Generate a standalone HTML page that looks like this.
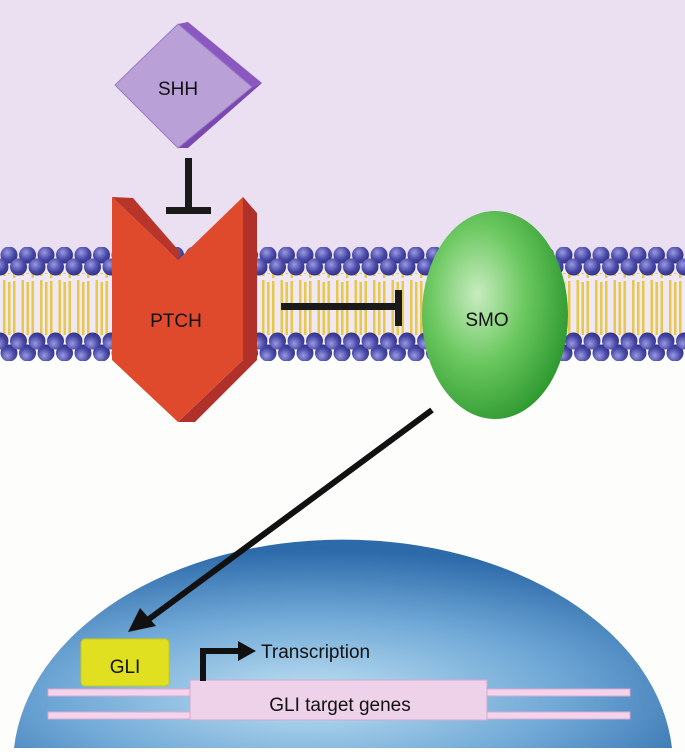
<!DOCTYPE html>
<html><head><meta charset="utf-8"><style>
html,body{margin:0;padding:0;background:#fdfdfb;overflow:hidden}
svg{display:block}
text{font-family:"Liberation Sans",Arial,sans-serif;fill:#111}
</style></head><body>
<svg width="685" height="752" viewBox="0 0 685 752" xmlns="http://www.w3.org/2000/svg">
<defs>
<radialGradient id="head" cx="0.4" cy="0.35" r="0.7">
<stop offset="0" stop-color="#9a9ae0"/><stop offset="0.6" stop-color="#4848a8"/><stop offset="1" stop-color="#2e2e80"/>
</radialGradient>
<radialGradient id="smo" cx="0.38" cy="0.4" r="0.65">
<stop offset="0" stop-color="#c8ecc0"/><stop offset="0.5" stop-color="#6cc860"/><stop offset="1" stop-color="#2f9a30"/>
</radialGradient>
<radialGradient id="nuc" cx="0.45" cy="0.75" r="0.7">
<stop offset="0" stop-color="#bfe0f2"/><stop offset="0.55" stop-color="#6fa8d6"/><stop offset="1" stop-color="#2d6aaa"/>
</radialGradient>
<pattern id="tails" x="0" y="0" width="18.5" height="62" patternUnits="userSpaceOnUse">
<rect x="3" y="0" width="2.5" height="28" fill="#e6c84a"/>
<rect x="8" y="0" width="2.5" height="26" fill="#e6c84a"/>
<rect x="13" y="0" width="2.5" height="30" fill="#e6c84a"/>
<rect x="3" y="32" width="2.5" height="30" fill="#e6c84a"/>
<rect x="8" y="34" width="2.5" height="28" fill="#e6c84a"/>
<rect x="13" y="33" width="2.5" height="29" fill="#e6c84a"/>
</pattern>
<pattern id="heads" x="0" y="0" width="18.5" height="30" patternUnits="userSpaceOnUse">
<circle cx="9" cy="8" r="8.5" fill="url(#head)"/>
<circle cx="0" cy="20" r="8.5" fill="url(#head)"/>
<circle cx="18.5" cy="20" r="8.5" fill="url(#head)"/>
</pattern>
</defs>
<rect width="685" height="300" fill="#ebe0f2"/>
<rect y="300" width="685" height="452" fill="#fdfdfb"/>
<!-- membrane -->
<rect x="0" y="262" width="685" height="78" fill="#f0e8f4"/>
<rect x="0" y="273" width="685" height="62" fill="url(#tails)"/>
<g transform="translate(0,247)"><rect width="685" height="30" fill="url(#heads)"/></g>
<g transform="translate(0,361) scale(1,-1)"><rect width="685" height="30" fill="url(#heads)"/></g>
<!-- SHH -->
<polygon points="178,24 188,22 262,83 252,87" fill="#8a58c0"/>
<polygon points="252,87 262,83 188,148 178,148" fill="#7a48b0"/>
<polygon points="178,24 252,87 178,148 115,85" fill="#b9a0d6" stroke="#9a7cc4" stroke-width="1"/>
<text x="178" y="95" font-size="19" text-anchor="middle">SHH</text>
<!-- SHH inhibition -->
<rect x="185" y="158" width="7" height="52" fill="#1a1a1a"/>
<rect x="166" y="207" width="45" height="7" fill="#1a1a1a"/>
<!-- PTCH -->
<polygon points="243,197 257,213 257,360 195,422 178,422 243,360" fill="#b0302a"/>
<polygon points="112,197 178,260 243,197 243,360 178,422 112,360" fill="#e04a2c"/>
<polygon points="112,197 133,198 180,252 178,260" fill="#b8352a"/>
<text x="176" y="327" font-size="19" text-anchor="middle">PTCH</text>
<!-- PTCH-SMO inhibition -->
<rect x="281" y="303" width="118" height="7" fill="#1a1a1a"/>
<rect x="395" y="290" width="7" height="36" fill="#1a1a1a"/>
<!-- SMO -->
<ellipse cx="495" cy="315" rx="73" ry="104" fill="url(#smo)"/>
<text x="487" y="326" font-size="19" text-anchor="middle">SMO</text>
<!-- nucleus -->
<path d="M14,748 A330,226 0 0 1 672,748 Z" fill="url(#nuc)"/>
<!-- main arrow -->
<line x1="432" y1="410" x2="145" y2="622" stroke="#111" stroke-width="6"/>
<polygon points="128,632 140,608 156,626" fill="#111"/>
<!-- DNA -->
<rect x="48" y="689" width="582" height="7" fill="#f3d4ec" stroke="#d8a8d0" stroke-width="1"/>
<rect x="48" y="712" width="582" height="7" fill="#f3d4ec" stroke="#d8a8d0" stroke-width="1"/>
<rect x="190" y="680" width="297" height="40" fill="#eed2ea" stroke="#d4a8d0" stroke-width="1"/>
<text x="340" y="711" font-size="19" text-anchor="middle">GLI target genes</text>
<!-- GLI -->
<rect x="81" y="639" width="88" height="47" rx="4" fill="#e0e020" stroke="#c8c810" stroke-width="1"/>
<text x="125" y="673" font-size="19" text-anchor="middle">GLI</text>
<!-- promoter arrow -->
<path d="M203,681 V651 H240" fill="none" stroke="#111" stroke-width="6"/>
<polygon points="238,641 256,651 238,661" fill="#111"/>
<text x="261" y="658" font-size="19">Transcription</text>
</svg>
</body></html>
